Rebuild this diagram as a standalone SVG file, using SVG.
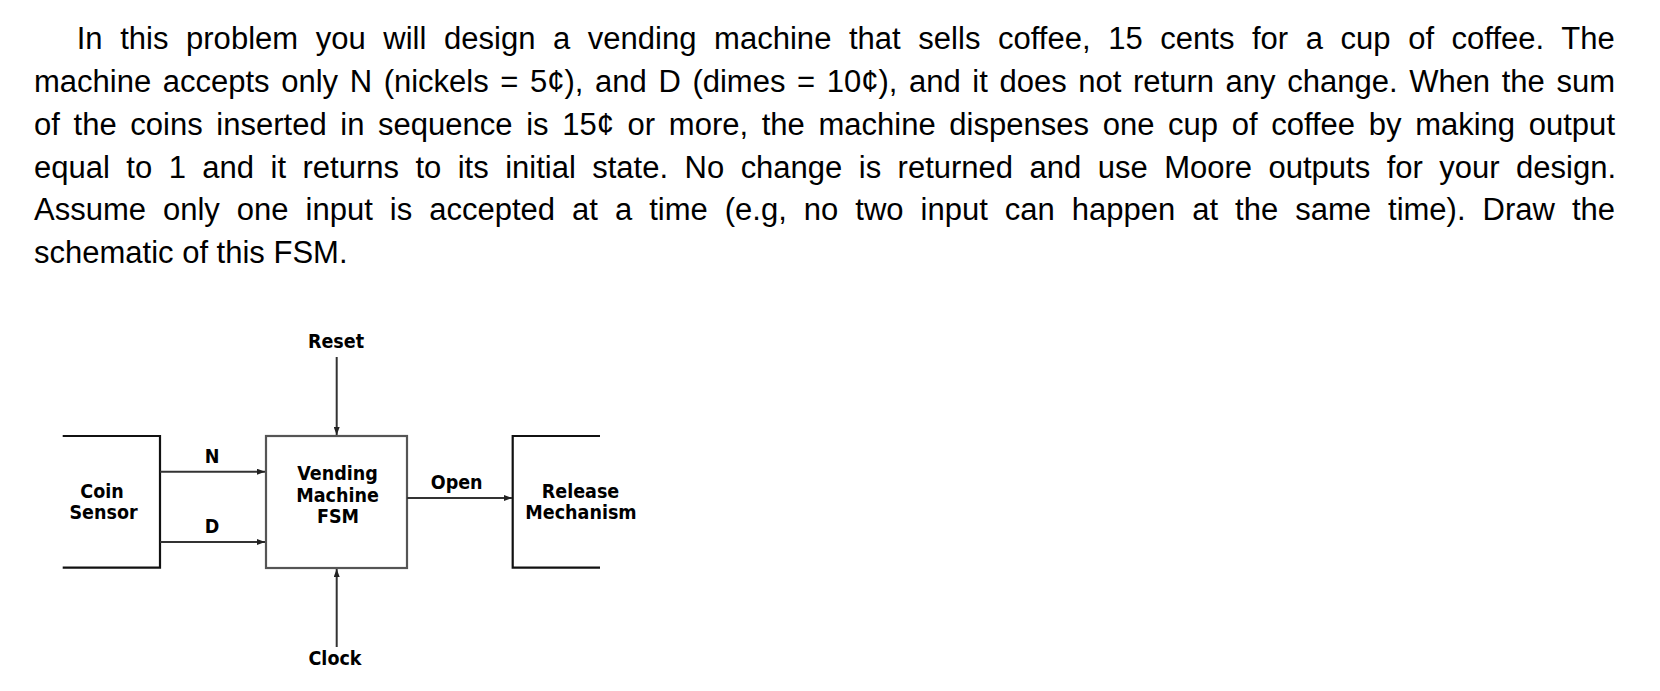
<svg xmlns="http://www.w3.org/2000/svg" width="1660" height="691" viewBox="0 0 1660 691">
<style>
.p{font-family:"Liberation Sans",Arial,sans-serif;font-size:31px;fill:#000}
.l{font-family:"DejaVu Sans Condensed","DejaVu Sans",sans-serif;font-stretch:condensed;font-weight:bold;font-size:19.5px;fill:#000;text-anchor:middle}
.box{fill:none;stroke:#111;stroke-width:2.2}
.fsm{fill:none;stroke:#555;stroke-width:2.2}
.w{fill:none;stroke:#333;stroke-width:2}
</style>
<defs>
<marker id="ah" viewBox="0 0 8 6" refX="8" refY="3" markerWidth="8" markerHeight="6" markerUnits="userSpaceOnUse" orient="auto">
<path d="M0,0 L8,3 L0,6 Z" fill="#222"/>
</marker>
</defs>
<rect width="1660" height="691" fill="#fff"/>
<g id="problem-text">
<text class="p" x="76.7" y="49" word-spacing="8.9" textLength="1538">In this problem you will design a vending machine that sells coffee, 15 cents for a cup of coffee. The</text>
<text class="p" x="34" y="91.9" word-spacing="3" textLength="1581">machine accepts only N (nickels = 5¢), and D (dimes = 10¢), and it does not return any change. When the sum</text>
<text class="p" x="34" y="134.7" word-spacing="5" textLength="1581">of the coins inserted in sequence is 15¢ or more, the machine dispenses one cup of coffee by making output</text>
<text class="p" x="34" y="177.6" word-spacing="7.85" textLength="1582">equal to 1 and it returns to its initial state. No change is returned and use Moore outputs for your design.</text>
<text class="p" x="34" y="220.4" word-spacing="8.4" textLength="1581">Assume only one input is accepted at a time (e.g, no two input can happen at the same time). Draw the</text>
<text class="p" x="34" y="263.3">schematic of this FSM.</text>
</g>
<g id="coin-sensor">
<path class="box" d="M62.7,436 H160 V567.7 H62.7"/>
<text class="l" x="102" y="497.5">Coin</text>
<text class="l" x="103.5" y="518.5">Sensor</text>
</g>
<g id="fsm">
<rect class="fsm" x="266" y="436" width="141" height="132"/>
<text class="l" x="337.5" y="480">Vending</text>
<text class="l" x="337.5" y="501.5">Machine</text>
<text class="l" x="338" y="522.5">FSM</text>
</g>
<g id="release">
<path class="box" d="M600,436 H512.7 V567.7 H600"/>
<text class="l" x="580.5" y="497.5">Release</text>
<text class="l" x="581" y="518.5">Mechanism</text>
</g>
<g id="reset">
<text class="l" x="336" y="348">Reset</text>
</g>
<g id="clock">
<text class="l" x="335" y="665">Clock</text>
</g>
<g id="connectors">
<line class="w" x1="160" y1="471.7" x2="265" y2="471.7" marker-end="url(#ah)"/>
<line class="w" x1="160" y1="542" x2="265" y2="542" marker-end="url(#ah)"/>
<line class="w" x1="407" y1="498" x2="512" y2="498" marker-end="url(#ah)"/>
<line class="w" x1="336.7" y1="357" x2="336.7" y2="435" marker-end="url(#ah)"/>
<line class="w" x1="336.7" y1="647" x2="336.7" y2="569" marker-end="url(#ah)"/>
<text class="l" x="212" y="463">N</text>
<text class="l" x="212" y="533">D</text>
<text class="l" x="456.7" y="489">Open</text>
</g>
</svg>
